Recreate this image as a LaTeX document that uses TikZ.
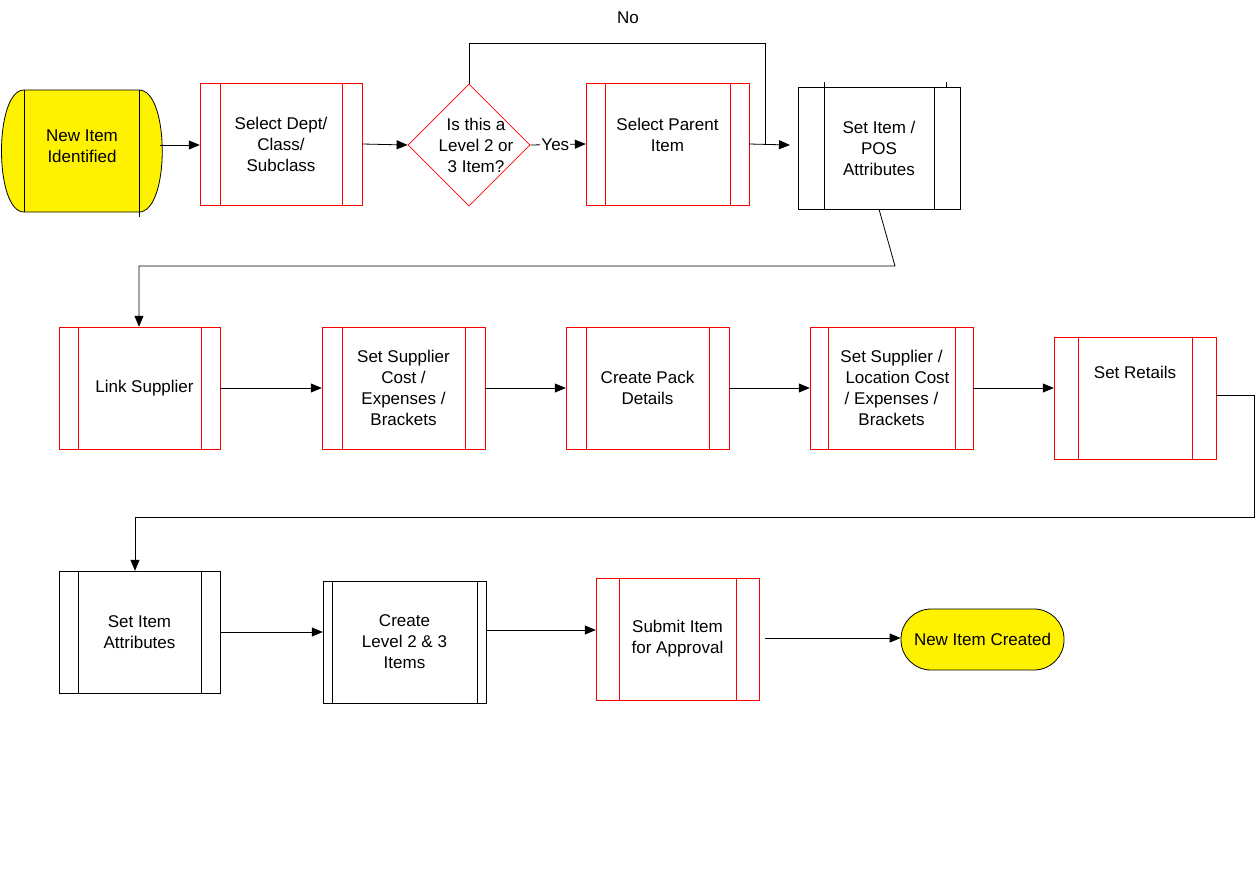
\documentclass[tikz,border=0pt]{standalone}
\usepackage{fontspec}
\setmainfont{Liberation Sans}
\usetikzlibrary{arrows.meta,shapes.geometric}
\begin{document}
\begin{tikzpicture}[x=1pt,y=-1pt,
  txt/.style={font=\fontsize{17}{21}\selectfont,align=center},
  arr/.style={-{Triangle[length=11pt,width=9pt]},line width=0.8pt},
  ln/.style={line width=0.8pt}]
\useasboundingbox (0,0) rectangle (1255,892);
\newcommand{\pbox}[8]{% name, x1,y1,x2,y2, colour, inset, text
  \draw[#6,line width=0.8pt] (#2,#3) rectangle (#4,#5);
  \draw[#6,line width=0.8pt] (#2+#7,#3) -- (#2+#7,#5) (#4-#7,#3) -- (#4-#7,#5);
  \node[txt,inner sep=0pt,minimum width=#4-#2,minimum height=#5-#3] (#1) at ({(#2+#4)/2},{(#3+#5)/2}) {};
  \node[txt] at ({(#2+#4)/2},{(#3+#5)/2}) {#8};}
% start
\draw[fill=yellow,line width=0.8pt] (24,90) -- (139,90) .. controls (170,90) and (170,212) .. (139,212) -- (24,212) .. controls (-6,212) and (-6,90) .. (24,90) -- cycle;
\draw[ln] (24,90) -- (24,212) (139,90) -- (139,217);
\node[txt] (start) at (82,146) {New Item\\Identified};
\coordinate (startE) at (160,145);
\pbox{dept}{200}{83}{362}{205}{red}{20}{Select Dept/\\Class/\\Subclass}
\node[diamond,draw=red,line width=0.8pt,minimum width=122pt,minimum height=122pt,inner sep=0pt] (dia) at (469,145) {};
\node[txt] at (476,145) {Is this a\\Level 2 or\\3 Item?};
\pbox{parent}{586}{83}{749}{205}{red}{19}{Select Parent\\Item\\[-2pt]\mbox{}}
\pbox{setitem}{798}{87}{960}{209}{black}{26}{Set Item /\\POS\\Attributes}
\draw[ln] (824,82)--(824,87) (946,82)--(946,87);
\pbox{link}{59}{327}{220}{449}{red}{19}{\hspace*{10pt}Link Supplier}
\pbox{supcost}{322}{327}{485}{449}{red}{20}{Set Supplier\\Cost /\\Expenses /\\Brackets}
\pbox{pack}{566}{327}{729}{449}{red}{20}{Create Pack\\Details}
\pbox{suploc}{810}{327}{973}{449}{red}{18}{Set Supplier /\\\hspace*{12pt}Location Cost\\/ Expenses /\\Brackets}
\pbox{retails}{1054}{337}{1216}{459}{red}{24}{Set Retails\\[30pt]\mbox{}}
\pbox{setattr}{59}{571}{220}{693}{black}{19}{Set Item\\Attributes}
\pbox{lvl}{323}{581}{486}{703}{black}{9}{Create\\Level 2 \& 3\\Items}
\pbox{submit}{596}{578}{759}{700}{red}{23}{Submit Item\\for Approval}
\node[draw,fill=yellow,rounded corners=30pt,minimum width=163pt,minimum height=61pt,line width=0.8pt,txt] (end) at (982.5,639.5) {New Item Created};
% connectors
\draw[arr] (startE) -- (dept.west|-startE);
\draw[arr] (dept.east) -- (dia.west);
\draw[arr] (dia.east) -- node[txt,fill=white,inner sep=1pt,pos=0.45]{Yes} (parent.west);
\coordinate (pe) at (790,145);
\draw[arr] (parent.east) -- (pe);
\coordinate (n1) at (469,43); \coordinate (n2) at (765,43); \coordinate (n3) at (765,145);
\draw[ln] (dia.north) -- (n1) -- (n2) -- (n3);
\node[txt] at (628,18) {No};
\coordinate (s1) at (895,266); \coordinate (s2) at (139,266);
\draw[arr] (setitem.south) -- (s1) -- (s2) -- (s2|-link.north);
\draw[arr] (link.east) -- (supcost.west);
\draw[arr] (supcost.east) -- (pack.west);
\draw[arr] (pack.east) -- (suploc.west);
\draw[arr] (suploc.east) -- (retails.west|-suploc.east);
\coordinate (r0) at (1216,395); \coordinate (r1) at (1254,395); \coordinate (r2) at (1254,517); \coordinate (r3) at (135,517);
\draw[arr] (r0) -- (r1) -- (r2) -- (r3) -- (r3|-setattr.north);
\draw[arr] (setattr.east) -- (lvl.west|-setattr.east);
\coordinate (l1) at (486,630);
\draw[arr] (l1) -- (submit.west|-l1);
\coordinate (sm) at (765,638);
\draw[arr] (sm) -- (end.west|-sm);
\end{tikzpicture}
\end{document}
